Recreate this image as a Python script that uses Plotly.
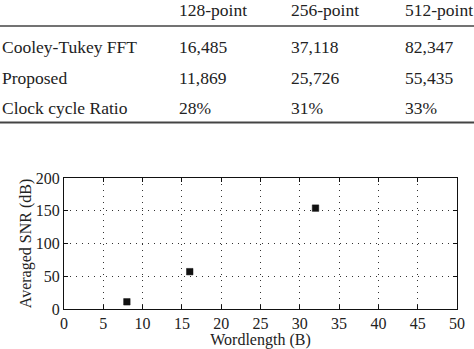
import plotly.graph_objects as go

# Table of clock cycle counts
col_headers = ["128-point", "256-point", "512-point"]
row_labels = ["Cooley-Tukey FFT", "Proposed", "Clock cycle Ratio"]
cooley_tukey = ["16,485", "37,118", "82,347"]
proposed = ["11,869", "25,726", "55,435"]
cycle_ratio = ["28%", "31%", "33%"]

# SNR versus wordlength
wordlength = [8, 16, 32]
avg_snr = [11, 57, 154]

W, H = 474, 349
FONT = "Liberation Serif"
TXT = "#222222"


def px(x):
    return x / W


def py(y):
    return 1 - y / H


fig = go.Figure()

fig.add_trace(go.Scatter(
    x=wordlength, y=avg_snr, mode="markers",
    marker=dict(symbol="square", size=6.5, color="#111111",
                line=dict(width=0.5, color="#111111")),
    showlegend=False, cliponaxis=False,
))

axis_common = dict(
    showline=True, linecolor="#111111", linewidth=1.2, mirror="ticks",
    ticks="inside", ticklen=4, tickcolor="#111111", tickwidth=1,
    showgrid=True, gridcolor="#333333", gridwidth=1, griddash="1px,5px",
    zeroline=False, automargin=False,
    tickfont=dict(family=FONT, size=16, color=TXT),
    title_font=dict(family=FONT, size=16, color=TXT),
)

fig.update_layout(
    width=W, height=H,
    margin=dict(l=0, r=0, t=0, b=0),
    paper_bgcolor="white", plot_bgcolor="white",
    xaxis=dict(range=[0, 50], dtick=5, domain=[px(64), px(457)],
               title=dict(text="Wordlength (B)", standoff=2), **axis_common),
    yaxis=dict(range=[0, 200], dtick=50, domain=[py(309), py(178)],
               title=dict(text="Averaged SNR (dB)", standoff=0), **axis_common),
)

# Table text
col_x = [177, 289, 403]
row_y = [47, 78, 108]
for cx, head in zip(col_x, col_headers):
    fig.add_annotation(x=px(cx), y=py(10), xref="paper", yref="paper",
                       text=head, showarrow=False, xanchor="left",
                       yanchor="middle",
                       font=dict(family=FONT, size=17.5, color=TXT))

rows = [cooley_tukey, proposed, cycle_ratio]
for ry, label, vals in zip(row_y, row_labels, rows):
    fig.add_annotation(x=px(0), y=py(ry), xref="paper", yref="paper",
                       text=label, showarrow=False, xanchor="left",
                       yanchor="middle",
                       font=dict(family=FONT, size=17.5, color=TXT))
    for cx, v in zip(col_x, vals):
        fig.add_annotation(x=px(cx), y=py(ry), xref="paper", yref="paper",
                           text=v, showarrow=False, xanchor="left",
                           yanchor="middle",
                           font=dict(family=FONT, size=17.5, color=TXT))

# Horizontal rules of the table
for ry, lw in [(26, 1.6), (122.5, 2)]:
    fig.add_shape(type="line", xref="paper", yref="paper",
                  x0=0, x1=1, y0=py(ry), y1=py(ry),
                  line=dict(color="#444444", width=lw))

fig.write_html("out.html")
